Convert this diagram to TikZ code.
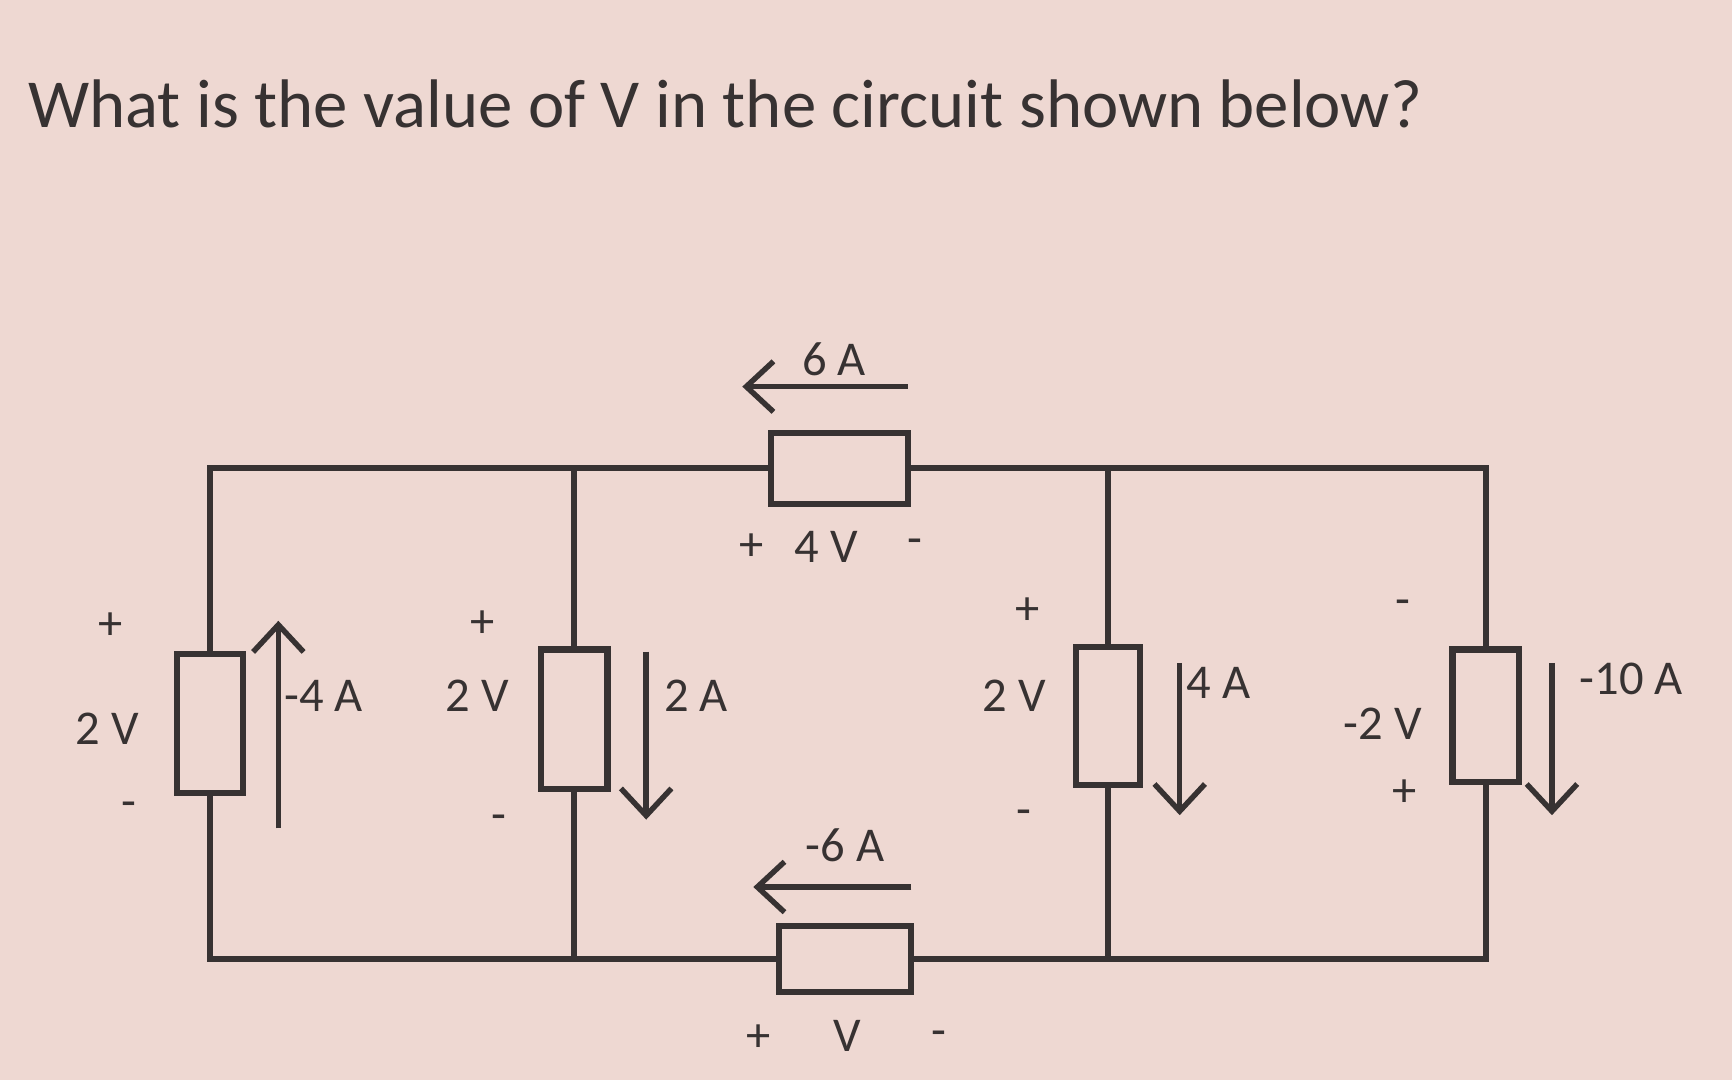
\documentclass[tikz,border=0pt]{standalone}
\usepackage{fontspec}
\setmainfont{Carlito}
\usetikzlibrary{arrows.meta}
\definecolor{bg}{RGB}{238,216,210}
\definecolor{ink}{RGB}{55,50,50}
\begin{document}
\begin{tikzpicture}[x=0.01cm,y=-0.01cm,
  wire/.style={ink,line width=1.6pt},
  lbl/.style={text=ink,font=\fontsize{12.5pt}{15pt}\selectfont,inner sep=0pt},
  carr/.style={ink,line width=1.4pt,-{Straight Barb[length=7pt,width=13pt,line width=1.4pt]}}]
\useasboundingbox[fill=bg] (0,0) rectangle (1568,978);
\node[anchor=base west,text=ink,inner sep=0pt,font=\fontsize{17.7pt}{21pt}\selectfont] (title) at (25,115) {What is the value of V in the circuit shown below?};
% corner coordinates
\coordinate (tl) at (190,424); \coordinate (t2) at (520,424);
\coordinate (t3) at (1003,424); \coordinate (tr) at (1345,424);
\coordinate (bl) at (190,868); \coordinate (b2) at (520,868);
\coordinate (b3) at (1003,868); \coordinate (br) at (1345,868);
% resistors
\node[draw=ink,line width=1.6pt,fill=bg,minimum width=1.24cm,minimum height=0.64cm] (rt) at (760,424) {};
\node[draw=ink,line width=1.6pt,fill=bg,minimum width=1.2cm,minimum height=0.6cm] (rb) at (765,868) {};
\node[draw=ink,line width=1.6pt,fill=bg,minimum width=0.6cm,minimum height=1.26cm] (r1) at (190,655) {};
\node[draw=ink,line width=1.6pt,fill=bg,minimum width=0.6cm,minimum height=1.26cm] (r2) at (520,651) {};
\node[draw=ink,line width=1.6pt,fill=bg,minimum width=0.58cm,minimum height=1.25cm] (r3) at (1003,648) {};
\node[draw=ink,line width=1.6pt,fill=bg,minimum width=0.6cm,minimum height=1.2cm] (r4) at (1345,648) {};
% wires
\draw[wire] (rt.west) -- (tl) -- (r1.north);
\draw[wire] (r1.south) -- (bl) -- (rb.west);
\draw[wire] (rt.east) -- (tr) -- (r4.north);
\draw[wire] (r4.south) -- (br) -- (rb.east);
\draw[wire] (t2) -- (r2.north); \draw[wire] (r2.south) -- (b2);
\draw[wire] (t3) -- (r3.north); \draw[wire] (r3.south) -- (b3);
% current arrows
\coordinate (a1s) at (252,750); \coordinate (a1e) at (252,562);
\coordinate (a2s) at (585,590); \coordinate (a2e) at (585,742);
\coordinate (a3s) at (1068,600); \coordinate (a3e) at (1068,738);
\coordinate (a4s) at (1405,600); \coordinate (a4e) at (1405,738);
\coordinate (a5s) at (822,350); \coordinate (a5e) at (672,350);
\coordinate (a6s) at (825,803); \coordinate (a6e) at (682,803);
\draw[carr] (a1s) -- (a1e);
\draw[carr] (a2s) -- (a2e);
\draw[carr] (a3s) -- (a3e);
\draw[carr] (a4s) -- (a4e);
\draw[carr] (a5s) -- (a5e);
\draw[carr] (a6s) -- (a6e);
% labels
\node[lbl] (l1) at (100,567) {+};
\node[lbl] (l2) at (97,660) {2 V};
\node[lbl] (l3) at (117,733) {-};
\node[lbl] (l4) at (293,630) {-4 A};
\node[lbl] (l5) at (437,565) {+};
\node[lbl] (l6) at (432,630) {2 V};
\node[lbl] (l7) at (452,745) {-};
\node[lbl] (l8) at (630,630) {2 A};
\node[lbl] (l9) at (755,325) {6 A};
\node[lbl] (l10) at (680,495) {+};
\node[lbl] (l11) at (748,495) {4 V};
\node[lbl] (l12) at (828,495) {-};
\node[lbl] (l13) at (930,553) {+};
\node[lbl] (l14) at (918,630) {2 V};
\node[lbl] (l15) at (927,740) {-};
\node[lbl] (l16) at (1103,618) {4 A};
\node[lbl] (l17) at (1270,550) {-};
\node[lbl] (l18) at (1252,655) {-2 V};
\node[lbl] (l19) at (1272,718) {+};
\node[lbl] (l20) at (1477,615) {-10 A};
\node[lbl] (l21) at (765,765) {-6 A};
\node[lbl] (l22) at (687,940) {+};
\node[lbl] (l23) at (767,938) {V};
\node[lbl] (l24) at (850,940) {-};
\end{tikzpicture}
\end{document}
